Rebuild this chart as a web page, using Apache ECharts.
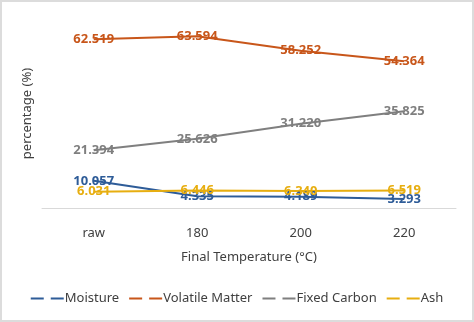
<!DOCTYPE html>
<html>
<head>
<meta charset="utf-8">
<script src="https://cdn.jsdelivr.net/npm/echarts@6/dist/echarts.min.js"></script>
<style>
  html, body { margin: 0; padding: 0; background: #fff; }
  #frame { width: 474px; height: 322px; box-sizing: border-box; border: 2px solid #dcdcdc; background: #fff; }
  #chart { width: 470px; height: 318px; }
</style>
</head>
<body>
<div id="frame"><div id="chart"></div></div>
<script>
// Proximate analysis by final temperature
const categories = ['raw', '180', '200', '220'];
const moisture = [10.057, 4.335, 4.189, 3.293];
const volatileMatter = [62.519, 63.594, 58.252, 54.364];
const fixedCarbon = [21.394, 25.626, 31.220, 35.825];
const ash = [6.031, 6.446, 6.340, 6.519];

const FONT = '"Noto Sans", "Open Sans", sans-serif';
const dashIcon = 'path://M0,0H13V2H0Z M20,0H33V2H20Z';

function makeSeries(name, data, color) {
  return {
    name: name,
    type: 'line',
    data: data,
    symbol: 'circle',
    symbolSize: 0.1,
    showSymbol: true,
    lineStyle: { color: color, width: 2 },
    itemStyle: { color: color },
    label: {
      show: true,
      position: 'inside',
      color: color,
      fontFamily: FONT,
      fontSize: 13,
      fontWeight: 'bold',
      formatter: p => p.value.toFixed(3)
    },
    labelLayout: { hideOverlap: false },
    emphasis: { disabled: true }
  };
}

const chart = echarts.init(document.getElementById('chart'));
chart.setOption({
  animation: false,
  textStyle: { fontFamily: FONT },
  grid: { left: 40, right: 16, top: 17, bottom: 112 },
  legend: {
    bottom: 10,
    left: 'center',
    icon: dashIcon,
    itemWidth: 33,
    itemHeight: 2,
    itemGap: 10,
    textStyle: { fontFamily: FONT, fontSize: 13, color: '#404040', padding: [0, 0, 0, -4] },
    data: ['Moisture', 'Volatile Matter', 'Fixed Carbon', 'Ash']
  },
  xAxis: {
    type: 'category',
    data: categories,
    boundaryGap: true,
    axisLine: { lineStyle: { color: '#d9d9d9', width: 1 } },
    axisTick: { show: false },
    axisLabel: { color: '#404040', fontSize: 13, margin: 19, fontFamily: FONT },
    name: 'Final Temperature (°C)',
    nameLocation: 'middle',
    nameGap: 43,
    nameTextStyle: { color: '#404040', fontSize: 13, fontFamily: FONT }
  },
  yAxis: {
    type: 'value',
    min: 0,
    max: 70,
    interval: 10,
    axisLine: { show: false },
    axisTick: { show: false },
    axisLabel: { show: false },
    splitLine: { show: false },
    name: 'percentage (%)',
    nameLocation: 'middle',
    nameGap: 8,
    nameRotate: 90,
    nameTextStyle: { color: '#404040', fontSize: 13, fontFamily: FONT }
  },
  series: [
    makeSeries('Moisture', moisture, '#2e5c98'),
    makeSeries('Volatile Matter', volatileMatter, '#c8561a'),
    makeSeries('Fixed Carbon', fixedCarbon, '#7f7f7f'),
    makeSeries('Ash', ash, '#e7ae10')
  ]
});
</script>
</body>
</html>
